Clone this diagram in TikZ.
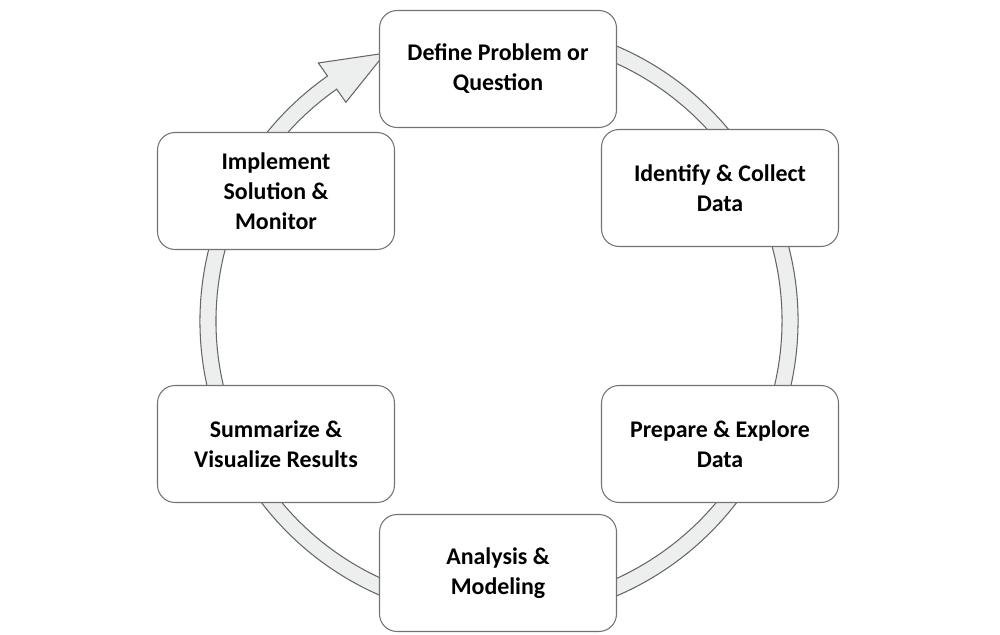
\documentclass[tikz,border=0pt]{standalone}
\usepackage{fontspec}
\setmainfont{Carlito}
\begin{document}
\begin{tikzpicture}[x=0.02cm,y=0.02cm,
  stagebox/.style={draw=black!55,line width=0.6pt,fill=white,rounded corners=10pt,
    minimum width=237*0.02cm,minimum height=117*0.02cm,align=center,
    font=\bfseries\fontsize{13.6}{17}\selectfont},
  ringfill/.style={fill=cyan!8!gray!15,draw=black!60,line width=0.6pt}]
\useasboundingbox (0,0) rectangle (1000,635);
\begin{scope}[shift={(499,314)}]
\path[ringfill] (80:299) arc[start angle=80,end angle=-235,radius=299]
  -- (125:315) -- (113:291) -- (125:267) -- (125:283)
  arc[start angle=-235,end angle=80,radius=283] -- cycle;
\end{scope}
\node[stagebox] (define) at (498,566) {Define Problem or\\Question};
\node[stagebox] (collect) at (720,447) {Identify \& Collect\\Data};
\node[stagebox] (prepare) at (720,191) {Prepare \& Explore\\Data};
\node[stagebox] (analysis) at (498,62) {Analysis \&\\Modeling};
\node[stagebox] (summ) at (276,191) {Summarize \&\\Visualize Results};
\node[stagebox] (impl) at (276,444) {Implement\\Solution \&\\Monitor};
\end{tikzpicture}
\end{document}
